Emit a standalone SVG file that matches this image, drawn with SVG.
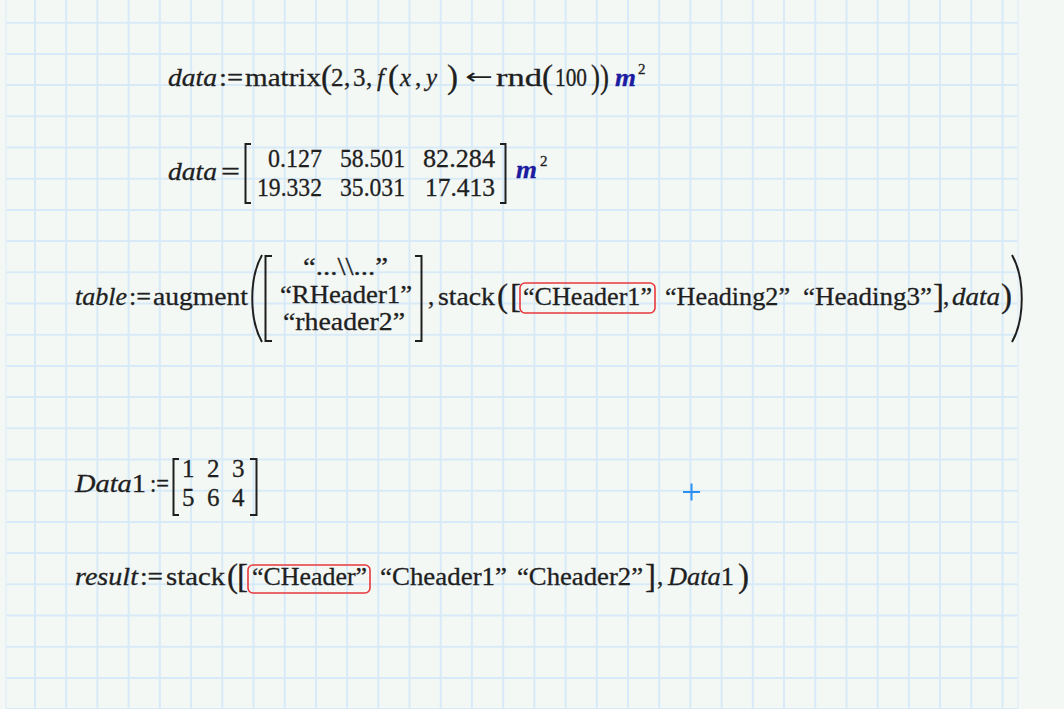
<svg xmlns="http://www.w3.org/2000/svg" width="1064" height="709" viewBox="0 0 1064 709">
<style>
text{font-family:"Liberation Serif","Times New Roman","DejaVu Serif",serif;font-size:25px;fill:#1f1f1f;stroke:#1f1f1f;stroke-width:0.3}
.i{font-style:italic}
.n{font-style:normal}
.u{fill:#1c1ca0;stroke:#1c1ca0;font-weight:bold;font-style:italic}
.sup{font-size:15px}
.p{font-size:33px}
.q{font-size:33px}
.ar{font-family:"DejaVu Sans",sans-serif;font-size:22px;stroke-width:0}
.grid{stroke:#d8eaf8;stroke-width:2;fill:none}
.edge{stroke:#e2eff9;stroke-width:1.5;fill:none}
.br{stroke:#1f1f1f;stroke-width:2;fill:none}
.hl{fill:none;stroke:#e8383d;stroke-width:1.6}
</style>
<rect x="0" y="0" width="1064" height="709" fill="#f4f8f5"/>
<g id="grid">
<path class="grid" d="M35 0V709M66.2 0V709M97.4 0V709M128.6 0V709M159.8 0V709M191.1 0V709M222.3 0V709M253.5 0V709M284.7 0V709M315.9 0V709M347.1 0V709M378.3 0V709M409.5 0V709M440.7 0V709M471.9 0V709M503.2 0V709M534.4 0V709M565.6 0V709M596.8 0V709M628 0V709M659.2 0V709M690.4 0V709M721.6 0V709M752.8 0V709M784 0V709M815.3 0V709M846.5 0V709M877.7 0V709M908.9 0V709M940.1 0V709M971.3 0V709M1002.5 0V709"/>
<path class="grid" d="M6 22.7H1018M6 53.9H1018M6 85.1H1018M6 116.3H1018M6 147.5H1018M6 178.7H1018M6 209.9H1018M6 241.1H1018M6 272.3H1018M6 303.5H1018M6 334.7H1018M6 365.9H1018M6 397.1H1018M6 428.3H1018M6 459.5H1018M6 490.7H1018M6 521.9H1018M6 553.1H1018M6 584.3H1018M6 615.5H1018M6 646.7H1018M6 677.9H1018M6 709.1H1018"/>
<path class="edge" d="M6 0V709M1018 0V709"/>
</g>
<g id="expr-data-def">
<text x="168" y="85.5" class="i" textLength="49" lengthAdjust="spacingAndGlyphs">data</text>
<text x="219" y="85.5" textLength="24" lengthAdjust="spacingAndGlyphs">:=</text>
<text x="245" y="85.5" textLength="76" lengthAdjust="spacingAndGlyphs">matrix</text>
<text x="321" y="88" class="p">(</text>
<text x="331" y="85.5">2</text>
<text x="344" y="85.5">,</text>
<text x="353" y="85.5">3</text>
<text x="366" y="85.5">,</text>
<text x="377" y="85.5" class="i">f</text>
<text x="388" y="88" class="p">(</text>
<text x="400" y="85.5" class="i">x</text>
<text x="415" y="85.5">,</text>
<text x="426" y="85.5" class="i">y</text>
<text x="447" y="88" class="p">)</text>
<text x="465" y="84" class="ar" textLength="28" lengthAdjust="spacingAndGlyphs">←</text>
<text x="496" y="85.5" textLength="46" lengthAdjust="spacingAndGlyphs">rnd</text>
<text x="542" y="88" class="p">(</text>
<text x="555" y="85.5" textLength="32" lengthAdjust="spacingAndGlyphs">100</text>
<text x="591" y="88" class="p" textLength="18" lengthAdjust="spacingAndGlyphs">))</text>
<text x="615" y="85.5" class="u" textLength="21" lengthAdjust="spacingAndGlyphs">m</text>
<text x="638" y="74" class="sup">2</text>
</g>
<g id="expr-data-eval">
<text x="168" y="180" class="i" textLength="49" lengthAdjust="spacingAndGlyphs">data</text>
<text x="221" y="180" textLength="19" lengthAdjust="spacingAndGlyphs">=</text>
<path class="br" d="M251 144H245.5V203H251"/>
<path class="br" d="M500 144H505.5V203H500"/>
<text x="268" y="167" textLength="54" lengthAdjust="spacingAndGlyphs">0.127</text>
<text x="340" y="167" textLength="65" lengthAdjust="spacingAndGlyphs">58.501</text>
<text x="423" y="167" textLength="72" lengthAdjust="spacingAndGlyphs">82.284</text>
<text x="257" y="196" textLength="65" lengthAdjust="spacingAndGlyphs">19.332</text>
<text x="340" y="196" textLength="65" lengthAdjust="spacingAndGlyphs">35.031</text>
<text x="425" y="196" textLength="70" lengthAdjust="spacingAndGlyphs">17.413</text>
<text x="516" y="178" class="u" textLength="21" lengthAdjust="spacingAndGlyphs">m</text>
<text x="540" y="166" class="sup">2</text>
</g>
<g id="expr-table">
<text x="75" y="305" class="i" textLength="52" lengthAdjust="spacingAndGlyphs">table</text>
<text x="129" y="305" textLength="22" lengthAdjust="spacingAndGlyphs">:=</text>
<text x="153" y="305" textLength="95" lengthAdjust="spacingAndGlyphs">augment</text>
<path class="br" d="M262 255C249 278 249 319 262 342"/>
<path class="br" d="M272 256H265.5V341H272"/>
<text x="303" y="275" textLength="85" lengthAdjust="spacingAndGlyphs">“...\\...”</text>
<text x="280" y="303" textLength="132" lengthAdjust="spacingAndGlyphs">“RHeader1”</text>
<text x="283" y="330" textLength="122" lengthAdjust="spacingAndGlyphs">“rheader2”</text>
<path class="br" d="M415 256H421.5V341H415"/>
<text x="428" y="305">,</text>
<text x="438" y="305" textLength="57" lengthAdjust="spacingAndGlyphs">stack</text>
<text x="497" y="307" class="q">(</text>
<text x="510" y="307" class="q">[</text>
<rect class="hl" x="520" y="283" width="135" height="30" rx="5"/>
<text x="523" y="305" textLength="129" lengthAdjust="spacingAndGlyphs">“CHeader1”</text>
<text x="665" y="305" textLength="125" lengthAdjust="spacingAndGlyphs">“Heading2”</text>
<text x="803" y="305" textLength="129" lengthAdjust="spacingAndGlyphs">“Heading3”</text>
<text x="933" y="307" class="q">]<tspan x="943" y="305" font-size="25">,</tspan></text>
<text x="952" y="305" class="i" textLength="48" lengthAdjust="spacingAndGlyphs">data</text>
<text x="1001" y="307" class="q">)</text>
<path class="br" d="M1012 255C1025 278 1025 319 1012 342"/>
</g>
<g id="expr-data1">
<text x="75" y="492" class="i" textLength="71" lengthAdjust="spacingAndGlyphs">Data<tspan class="n">1</tspan></text>
<text x="150" y="492" textLength="19" lengthAdjust="spacingAndGlyphs">:=</text>
<path class="br" d="M179 459H173.5V515H179"/>
<path class="br" d="M250 459H256.5V515H250"/>
<text x="182" y="477">1</text>
<text x="207" y="477">2</text>
<text x="232" y="477">3</text>
<text x="182" y="506">5</text>
<text x="207" y="506">6</text>
<text x="232" y="506">4</text>
</g>
<g id="expr-result">
<text x="75" y="585" class="i" textLength="63" lengthAdjust="spacingAndGlyphs">result</text>
<text x="140" y="585" textLength="23" lengthAdjust="spacingAndGlyphs">:=</text>
<text x="166" y="585" textLength="59" lengthAdjust="spacingAndGlyphs">stack</text>
<text x="227" y="587" class="q">(</text>
<text x="237" y="587" class="q">[</text>
<rect class="hl" x="248" y="565" width="122" height="28" rx="5"/>
<text x="252" y="585" textLength="115" lengthAdjust="spacingAndGlyphs">“CHeader”</text>
<text x="380" y="585" textLength="127" lengthAdjust="spacingAndGlyphs">“Cheader1”</text>
<text x="517" y="585" textLength="126" lengthAdjust="spacingAndGlyphs">“Cheader2”</text>
<text x="645" y="587" class="q">]</text>
<text x="657" y="585">,</text>
<text x="668" y="585" class="i" textLength="66" lengthAdjust="spacingAndGlyphs">Data<tspan class="n">1</tspan></text>
<text x="738" y="587" class="q">)</text>
</g>
<g id="cursor">
<path d="M683 492H700M691.5 483.5V500.5" stroke="#2b8ff0" stroke-width="2" fill="none"/>
</g>
</svg>
